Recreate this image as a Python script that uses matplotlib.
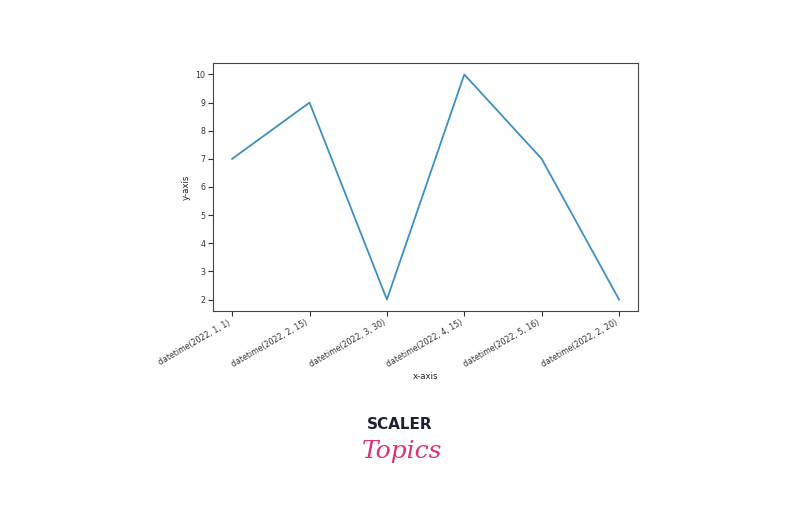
import matplotlib
matplotlib.use("Agg")
import matplotlib.pyplot as plt

x_labels = ["datetime(2022, 1, 1)", "datetime(2022, 2, 15)", "datetime(2022, 3, 30)",
            "datetime(2022, 4, 15)", "datetime(2022, 5, 16)", "datetime(2022, 2, 20)"]
y_values = [7, 9, 2, 10, 7, 2]

plt.rcParams['font.size'] = 6

fig = plt.figure(figsize=(8, 5.18), dpi=100)
ax = fig.add_axes([0.266, 0.400, 0.532, 0.478])
ax.plot(x_labels, y_values, color="#3d8fc4", linewidth=1.3)
ax.set_xlabel("x-axis", fontsize=6.2, color="#222222", labelpad=2)
ax.set_ylabel("y-axis", fontsize=6.2, color="#222222", labelpad=3)
plt.setp(ax.get_xticklabels(), rotation=30, ha="right")
for s in ax.spines.values():
    s.set_color("#444444")
    s.set_linewidth(0.8)
ax.tick_params(colors="#333333", width=0.8, length=3.5, labelsize=5.7, pad=2)

# logo
fig.text(0.500, 0.181, "SCALER", ha="center", va="center", fontsize=11,
         fontweight="bold", color="#1b2233", family="DejaVu Sans")
fig.text(0.502, 0.128, "Topics", ha="center", va="center", fontsize=18,
         style="italic", color="#e0307a", family="DejaVu Serif")

fig.savefig("out.png", dpi=100)
